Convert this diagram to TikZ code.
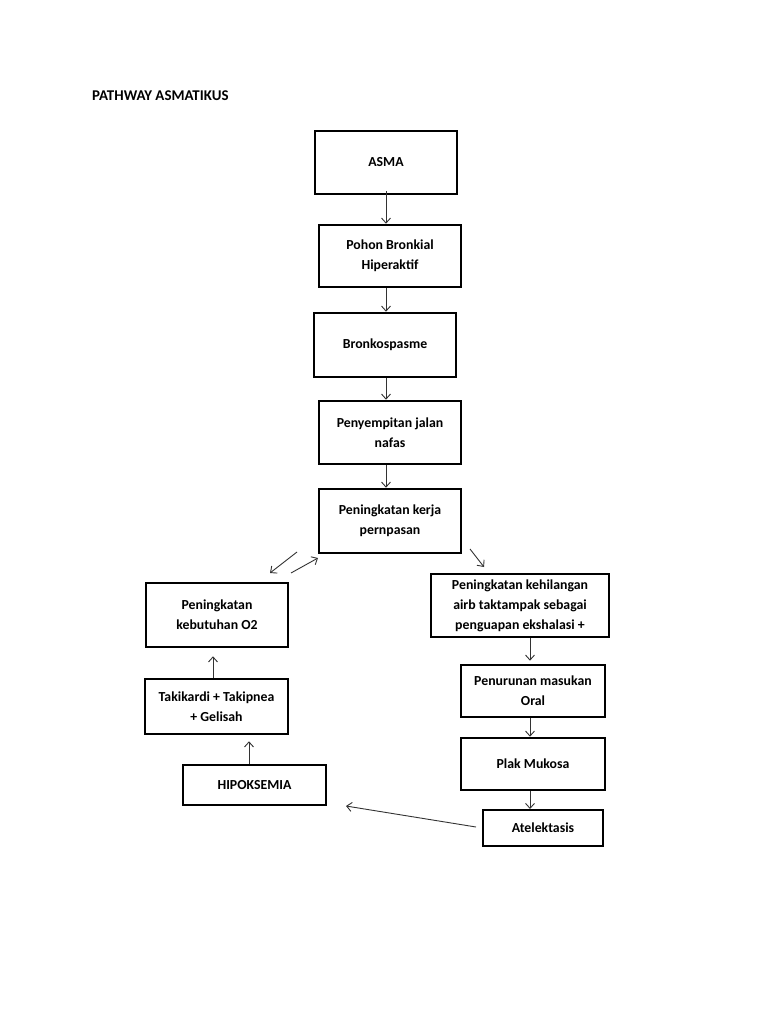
\documentclass[tikz,border=0pt]{standalone}
\usepackage{fontspec}
\setmainfont{Carlito}
\usetikzlibrary{arrows.meta}
\begin{document}
\begin{tikzpicture}[x=1pt,y=-1pt,
  box/.style={draw=black,line width=2.6pt,align=center,inner sep=0pt,
    font=\fontsize{13.8}{20}\selectfont\bfseries},
  thinbox/.style={box,line width=2pt},
  arr/.style={draw=black!80,line width=0.9pt,-{Straight Barb[length=5pt,width=9pt]}}]
\useasboundingbox[fill=white] (0,0) rectangle (768,1024);
\node[anchor=base west,inner sep=0pt,font=\fontsize{14.9}{17}\selectfont\bfseries] (title) at (92,101) {PATHWAY ASMATIKUS};
\node[box,minimum width=142,minimum height=63] (asma) at (386,162.5) {ASMA};
\node[box,minimum width=142,minimum height=62] (pohon) at (390,256) {Pohon Bronkial\\Hiperaktif};
\node[box,minimum width=142,minimum height=64] (bronko) at (385,345) {Bronkospasme};
\node[box,minimum width=142,minimum height=63] (peny) at (390,432.5) {Penyempitan jalan\\nafas};
\node[box,minimum width=142,minimum height=64] (kerja) at (390,521) {Peningkatan kerja\\pernpasan};
\node[box,minimum width=142,minimum height=64] (otwo) at (217,615) {Peningkatan\\kebutuhan O2};
\node[box,minimum width=143,minimum height=55] (taki) at (216.5,706.5) {Takikardi + Takipnea\\+ Gelisah};
\node[thinbox,minimum width=143,minimum height=40] (hipo) at (254.5,785) {HIPOKSEMIA};
\node[box,minimum width=178,minimum height=63] (kehil) at (520,605.5) {Peningkatan kehilangan\\airb taktampak sebagai\\penguapan ekshalasi +};
\node[box,minimum width=144,minimum height=52] (penur) at (533,691) {Penurunan masukan\\Oral};
\node[box,minimum width=144,minimum height=52] (plak) at (533,764) {Plak Mukosa};
\node[thinbox,minimum width=120,minimum height=36] (atel) at (543,828) {Atelektasis};
% vertical arrows
\draw[arr] ([yshift=4]asma.south) -- (asma.south |- pohon.north);
\draw[arr] ([xshift=1]bronko.north |- pohon.south) -- ([xshift=1]bronko.north);
\draw[arr] ([xshift=1]bronko.south) -- ([xshift=1]bronko.south |- peny.north);
\draw[arr] ([xshift=-4]peny.south) -- ([xshift=-4]kerja.north);
\draw[arr,shorten >=3pt] ([xshift=-3]penur.north |- kehil.south) -- ([xshift=-3]penur.north);
\draw[arr] ([xshift=-3]penur.south) -- ([xshift=-3]plak.north);
\draw[arr] ([xshift=-3]plak.south) -- ([xshift=-3]atel.north -| plak.south);
\draw[arr,shorten >=6pt] ([xshift=-5.5]hipo.north) -- ([xshift=-5.5]hipo.north |- taki.south);
\draw[arr,shorten >=8pt] ([xshift=-3.5]taki.north) -- ([xshift=-3.5]taki.north |- otwo.south);
% diagonal arrows
\coordinate (d1s) at (297,552);
\coordinate (d1e) at (270,573);
\coordinate (d2s) at (291,573);
\coordinate (d2e) at (318,558);
\coordinate (d3s) at (470,549);
\coordinate (d3e) at (484,567);
\draw[arr] (d1s) -- (d1e);
\draw[arr] (d2s) -- (d2e);
\draw[arr] (d3s) -- (d3e);
\draw[arr] ([xshift=-6,yshift=1]atel.west) -- ([xshift=19]hipo.south east);
\end{tikzpicture}
\end{document}
